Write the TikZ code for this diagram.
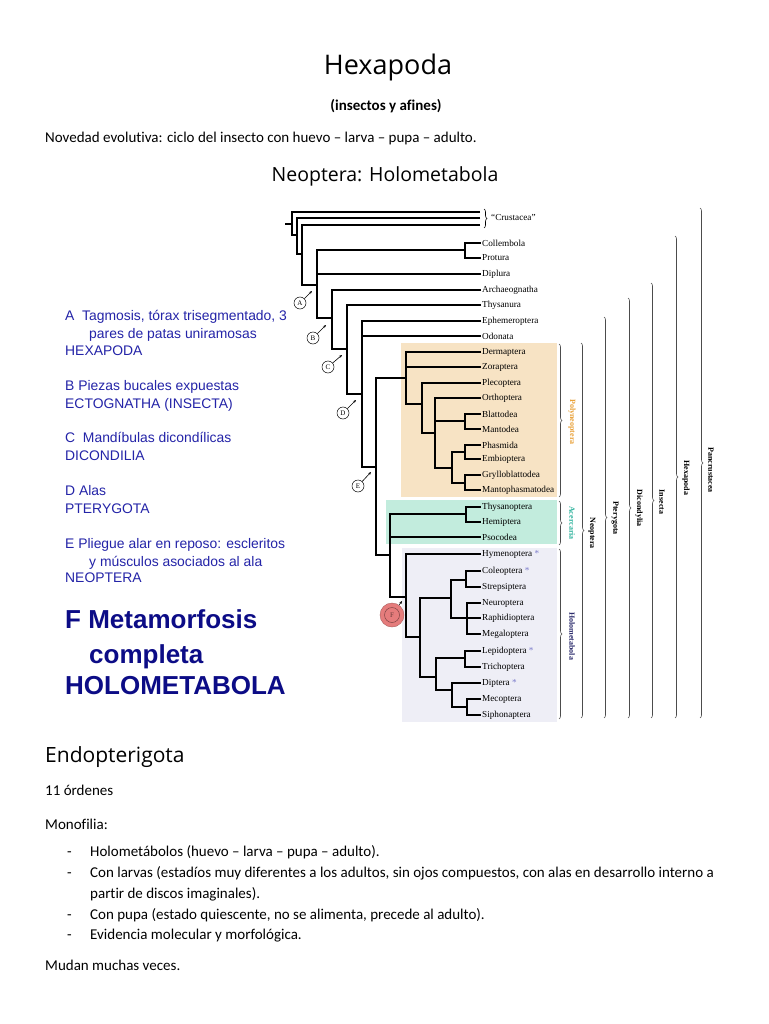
\documentclass[tikz,border=0pt]{standalone}
\usepackage{fontspec}
\setmainfont{Carlito}[Ligatures={NoCommon}]
\newfontfamily\manofont{Open Sans}
\newfontfamily\arialfont{Liberation Sans}
\newfontfamily\libserif{Liberation Serif}
\usetikzlibrary{arrows.meta,decorations.pathreplacing}

\definecolor{azul}{HTML}{2424A8}
\definecolor{azulfuerte}{HTML}{0C0C86}
\definecolor{ocre}{HTML}{F7E3C4}
\definecolor{menta}{HTML}{C2ECDD}
\definecolor{lila}{HTML}{EEEEF6}
\definecolor{naranja}{HTML}{E9A23B}
\definecolor{verdeazul}{HTML}{35B5A0}
\definecolor{marino}{HTML}{2E2E6E}
\definecolor{rojo}{HTML}{E57C7C}

\tikzset{
  rama/.style={line width=1.5pt},
  taxon/.style={anchor=west, inner sep=1pt, font=\libserif\fontsize{9.2}{10}\selectfont},
  hito/.style={circle, draw, line width=0.5pt, minimum size=12pt, inner sep=0pt,
    font=\libserif\fontsize{7}{7}\selectfont},
  flecha/.style={line width=0.6pt, -{Stealth[length=3pt,width=2.5pt]}},
  llave/.style={draw=black!70, line width=0.6pt, decorate, decoration={brace, amplitude=3pt}},
  grupo/.style={rotate=-90, inner sep=0pt, font=\libserif\bfseries\fontsize{8}{8}\selectfont},
  texto/.style={anchor=west, inner sep=0pt, text height=10pt, text depth=3pt,
    font=\fontsize{15}{17}\selectfont},
  rasgo/.style={anchor=west, inner sep=0pt, text=azul, text height=10pt, text depth=3pt,
    font=\arialfont\fontsize{13.9}{15}\selectfont},
  rasgogrande/.style={anchor=west, inner sep=0pt, text=azulfuerte, text height=18.5pt, text depth=5pt,
    font=\arialfont\bfseries\fontsize{26}{28}\selectfont},
}

\begin{document}
\begin{tikzpicture}[x=1pt, y=-1pt]
  \fill[white] (0,0) rectangle (768,1024);
  \useasboundingbox (0,0) rectangle (768,1024);

  % encabezado
  \node[font=\manofont\fontsize{27}{30}\selectfont] (titulo) at (388,67) {Hexapoda};
  \node[font=\bfseries\fontsize{15}{17}\selectfont] (subtit) at (386,106) {(insectos y afines)};
  \node[texto] (novedad) at (45,139) {Novedad evolutiva: ciclo del insecto con huevo – larva – pupa – adulto.};
  \node[font=\manofont\fontsize{19.5}{22}\selectfont] (neohol) at (385,176) {Neoptera: Holometabola};

  % fondos de los grupos
  \fill[ocre] (401,343) rectangle (557,497);
  \fill[menta] (386,500) rectangle (557,544);
  \fill[lila] (402,548) rectangle (557,722);

  % taxones
  \node[taxon] (coll) at (481,243) {Collembola};
  \node[taxon] (prot) at (481,258) {Protura};
  \node[taxon] (dipl) at (481,274) {Diplura};
  \node[taxon] (arch) at (481,290) {Archaeognatha};
  \node[taxon] (thys) at (481,305) {Thysanura};
  \node[taxon] (ephe) at (481,321) {Ephemeroptera};
  \node[taxon] (odon) at (481,336) {Odonata};
  \node[taxon] (derm) at (481,352) {Dermaptera};
  \node[taxon] (zora) at (481,367) {Zoraptera};
  \node[taxon] (plec) at (481,383) {Plecoptera};
  \node[taxon] (orth) at (481,398) {Orthoptera};
  \node[taxon] (blat) at (481,414) {Blattodea};
  \node[taxon] (mant) at (481,429) {Mantodea};
  \node[taxon] (phas) at (481,445) {Phasmida};
  \node[taxon] (embi) at (481,459) {Embioptera};
  \node[taxon] (gryl) at (481,475) {Grylloblattodea};
  \node[taxon] (mtph) at (481,490) {Mantophasmatodea};
  \node[taxon] (thyp) at (481,507) {Thysanoptera};
  \node[taxon] (hemi) at (481,522) {Hemiptera};
  \node[taxon] (psoc) at (481,537) {Psocodea};
  \node[taxon] (hyme) at (481,554) {Hymenoptera {\color{azul!60}*}};
  \node[taxon] (cole) at (481,571) {Coleoptera {\color{azul!60}*}};
  \node[taxon] (stre) at (481,587) {Strepsiptera};
  \node[taxon] (neur) at (481,603) {Neuroptera};
  \node[taxon] (raph) at (481,618) {Raphidioptera};
  \node[taxon] (mega) at (481,634) {Megaloptera};
  \node[taxon] (lepi) at (481,651) {Lepidoptera {\color{azul!60}*}};
  \node[taxon] (tric) at (481,667) {Trichoptera};
  \node[taxon] (dipt) at (481,683) {Diptera {\color{azul!60}*}};
  \node[taxon] (meco) at (481,699) {Mecoptera};
  \node[taxon] (siph) at (481,715) {Siphonaptera};

  % "Crustacea"
  \coordinate (cr1) at (480,212);
  \coordinate (cr2) at (480,218);
  \coordinate (cr3) at (480,225);
  \coordinate (cra) at (484,209);
  \coordinate (crb) at (484,228);
  \draw[llave, draw=black] (cra) -- (crb);
  \node[taxon] (crus) at (490,217) {“Crustacea”};

  % nodos internos
  \coordinate (raiz) at (285,224);
  \coordinate (r1) at (292,224);
  \coordinate (r2) at (297,235);
  \coordinate (r3) at (302,254);
  \coordinate (hexa) at (317,285);
  \coordinate (cp) at (465,250);
  \coordinate (inse) at (332,318);
  \coordinate (dico) at (347,349);
  \coordinate (pter) at (362,394);
  \coordinate (neop) at (376,467);
  \coordinate (poly) at (406,378);
  \coordinate (pl2) at (422,404);
  \coordinate (pl3) at (435,433);
  \coordinate (dict) at (465,421);
  \coordinate (pl4) at (452,468);
  \coordinate (pe) at (465,452);
  \coordinate (gm) at (465,483);
  \coordinate (para) at (390,555);
  \coordinate (th) at (466,514);
  \coordinate (holo) at (406,597);
  \coordinate (hb) at (420,637);
  \coordinate (coneu) at (451,598);
  \coordinate (cs) at (466,580);
  \coordinate (nrm) at (467,618);
  \coordinate (mecd) at (436,677);
  \coordinate (lt) at (465,658);
  \coordinate (dms) at (452,690);
  \coordinate (ms) at (467,707);

  % ramas
  \draw[rama] (raiz) -- (r1);
  \draw[rama] (cr1) -| (r1) |- (r2);
  \draw[rama] (cr2) -| (r2) |- (r3);
  \draw[rama] (cr3) -| (r3) |- (hexa);
  \draw[rama] (coll.west) -| (cp) |- (prot.west);
  \draw[rama] (cp) -| (hexa) |- (inse);
  \draw[rama] (dipl.west) -- (dipl.west -| hexa);
  \draw[rama] (arch.west) -| (inse) |- (dico);
  \draw[rama] (thys.west) -| (dico) |- (pter);
  \draw[rama] (ephe.west) -| (pter) |- (neop);
  \draw[rama] (odon.west) -- (odon.west -| pter);
  \draw[rama] (poly) -| (neop) |- (para);

  \draw[rama] (derm.west) -| (poly) |- (pl2);
  \draw[rama] (zora.west) -- (zora.west -| poly);
  \draw[rama] (plec.west) -| (pl2) |- (pl3);
  \draw[rama] (orth.west) -| (pl3) |- (pl4);
  \draw[rama] (dict) -- (dict -| pl3);
  \draw[rama] (blat.west) -| (dict) |- (mant.west);
  \draw[rama] (pe) -| (pl4) |- (gm);
  \draw[rama] (phas.west) -| (pe) |- (embi.west);
  \draw[rama] (gryl.west) -| (gm) |- (mtph.west);

  \draw[rama] (th) -| (para) |- (holo);
  \draw[rama] (psoc.west) -- (psoc.west -| para);
  \draw[rama] (thyp.west) -| (th) |- (hemi.west);

  \draw[rama] (hyme.west) -| (holo) |- (hb);
  \draw[rama] (coneu) -| (hb) |- (mecd);
  \draw[rama] (cs) -| (coneu) |- (nrm);
  \draw[rama] (cole.west) -| (cs) |- (stre.west);
  \draw[rama] (neur.west) -| (nrm) |- (mega.west);
  \draw[rama] (nrm) -- (raph.west);
  \draw[rama] (lt) -| (mecd) |- (dms);
  \draw[rama] (lepi.west) -| (lt) |- (tric.west);
  \draw[rama] (dipt.west) -| (dms) |- (ms);
  \draw[rama] (meco.west) -| (ms) |- (siph.west);

  % marcas A-F
  \node[hito] (mA) at (300,303) {A};
  \node[hito] (mB) at (313,338) {B};
  \node[hito] (mC) at (328,367) {C};
  \node[hito] (mD) at (343,413) {D};
  \node[hito] (mE) at (358,486) {E};
  \coordinate (pA) at (312,291);
  \coordinate (pB) at (326,325);
  \coordinate (pC) at (342,355);
  \coordinate (pD) at (356,400);
  \coordinate (pE) at (371,472);
  \draw[flecha] (mA) -- (pA);
  \draw[flecha] (mB) -- (pB);
  \draw[flecha] (mC) -- (pC);
  \draw[flecha] (mD) -- (pD);
  \draw[flecha] (mE) -- (pE);
  \node[circle, fill=rojo, draw=rojo!75!black, minimum size=24pt, inner sep=0pt] (mF) at (392,615) {};
  \node[hito, draw=rojo!55!black, minimum size=15pt, text=rojo!45!black] (mFi) at (392,615) {F};
  \coordinate (pF) at (402,601);
  \draw[flecha] (mF) -- (pF);

  % llaves de los grupos sombreados
  \coordinate (po1) at (559,344);
  \coordinate (po2) at (559,497);
  \coordinate (ac1) at (559,501);
  \coordinate (ac2) at (559,545);
  \coordinate (ho1) at (559,549);
  \coordinate (ho2) at (559,719);
  \draw[llave] (po1) -- (po2);
  \draw[llave] (ac1) -- (ac2);
  \draw[llave] (ho1) -- (ho2);
  \node[grupo, text=naranja] (lpoly) at (572,422) {Polyneoptera};
  \node[grupo, text=verdeazul] (lacer) at (572,523) {Acercaria};
  \node[grupo, text=marino] (lholo) at (572,636) {Holometabola};

  % llaves de los clados
  \coordinate (ne1) at (581,343);
  \coordinate (ne2) at (581,718);
  \coordinate (pt1) at (604,317);
  \coordinate (pt2) at (604,718);
  \coordinate (di1) at (628,298);
  \coordinate (di2) at (628,718);
  \coordinate (in1) at (651,283);
  \coordinate (in2) at (651,718);
  \coordinate (hx1) at (675,236);
  \coordinate (hx2) at (675,718);
  \coordinate (pa1) at (700,208);
  \coordinate (pa2) at (700,718);
  \draw[llave] (ne1) -- (ne2);
  \draw[llave] (pt1) -- (pt2);
  \draw[llave] (di1) -- (di2);
  \draw[llave] (in1) -- (in2);
  \draw[llave] (hx1) -- (hx2);
  \draw[llave] (pa1) -- (pa2);
  \node[grupo] (lneo) at (592,533) {Neoptera};
  \node[grupo] (lpte) at (615,518) {Pterygota};
  \node[grupo] (ldic) at (639,508) {Dicondylia};
  \node[grupo] (lins) at (662,502) {Insecta};
  \node[grupo] (lhex) at (686,478) {Hexapoda};
  \node[grupo] (lpan) at (711,470) {Pancrustacea};

  % rasgos A-F
  \node[rasgo] (a1) at (65,317) {A\ \ Tagmosis, tórax trisegmentado, 3};
  \node[rasgo] (a2) at (89,335) {pares de patas uniramosas};
  \node[rasgo] (a3) at (65,352) {HEXAPODA};
  \node[rasgo] (b1) at (65,387) {B Piezas bucales expuestas};
  \node[rasgo] (b2) at (65,405) {ECTOGNATHA (INSECTA)};
  \node[rasgo] (c1) at (65,439) {C\ \ Mandíbulas dicondílicas};
  \node[rasgo] (c2) at (65,457) {DICONDILIA};
  \node[rasgo] (d1) at (65,492) {D Alas};
  \node[rasgo] (d2) at (65,510) {PTERYGOTA};
  \node[rasgo] (e1) at (65,545) {E Pliegue alar en reposo: escleritos};
  \node[rasgo] (e2) at (89,563) {y músculos asociados al ala};
  \node[rasgo] (e3) at (65,579) {NEOPTERA};
  \node[rasgogrande] (f1) at (65,622) {F Metamorfosis};
  \node[rasgogrande] (f2) at (89,657) {completa};
  \node[rasgogrande] (f3) at (65,688) {HOLOMETABOLA};

  % Endopterigota
  \node[texto, font=\manofont\fontsize{21}{23}\selectfont, text height=16pt, text depth=5pt] (endo) at (45,757) {Endopterigota};
  \node[texto] (ordenes) at (45,792) {11 órdenes};
  \node[texto] (monof) at (45,826) {Monofilia:};
  \node[texto] (g1) at (67,853) {-};
  \node[texto] (i1) at (90,853) {Holometábolos (huevo – larva – pupa – adulto).};
  \node[texto] (g2) at (67,874) {-};
  \node[texto] (i2) at (90,874) {Con larvas (estadíos muy diferentes a los adultos, sin ojos compuestos, con alas en desarrollo interno a};
  \node[texto] (i2b) at (90,895) {partir de discos imaginales).};
  \node[texto] (g3) at (67,916) {-};
  \node[texto] (i3) at (90,916) {Con pupa (estado quiescente, no se alimenta, precede al adulto).};
  \node[texto] (g4) at (67,936) {-};
  \node[texto] (i4) at (90,936) {Evidencia molecular y morfológica.};
  \node[texto] (mudan) at (45,967) {Mudan muchas veces.};
\end{tikzpicture}
\end{document}
